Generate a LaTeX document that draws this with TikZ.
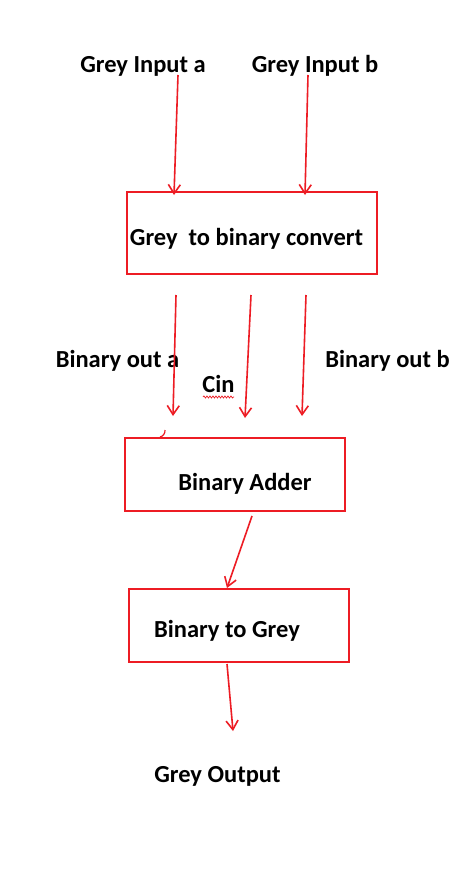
\documentclass[tikz,border=0pt]{standalone}
\usepackage{fontspec}
\setmainfont{Carlito}
\usetikzlibrary{arrows.meta,decorations.pathmorphing}
\definecolor{penred}{RGB}{237,28,36}
\tikzset{
	blockbox/.style = {draw=penred, line width=1.6pt, inner sep=0pt},
	lbl/.style = {font=\bfseries\fontsize{24.5}{29}\selectfont, inner sep=0pt, anchor=base},
	redarrow/.style = {penred, line width=1.6pt, -{Straight Barb[length=9pt,width=12pt,line width=1.6pt]}}
}
\begin{document}
\begin{tikzpicture}[x=1pt, y=-1pt]
	\fill[white] (0,0) rectangle (476,880);
	\useasboundingbox (0,0) rectangle (476,880);
	
	% blocks
	\node[blockbox, minimum width=250pt, minimum height=82pt](conv) at (252,233) {};
	\node[blockbox, minimum width=220pt, minimum height=73pt](adder) at (235,474.5) {};
	\node[blockbox, minimum width=220pt, minimum height=73pt](togrey) at (239,625.5) {};
	
	% texts
	\node[lbl](ina) at (143,73) {Grey Input a};
	\node[lbl](inb) at (315,73) {Grey Input b};
	\node[lbl](convtxt) at (246.5,245) {Grey\ \ to binary convert};
	\node[lbl](outa) at (117.5,367) {Binary out a};
	\node[lbl](outb) at (387.5,367) {Binary out b};
	\node[lbl](cin) at (218.5,392) {Cin};
	\node[lbl](addtxt) at (245,490) {Binary Adder};
	\node[lbl](greytxt) at (227,637) {Binary to Grey};
	\node[lbl](gout) at (217.5,782) {Grey Output};
	
	% arrow ends
	\coordinate[](a1) at (178,75) ;
	\coordinate[](a2) at (174,195) ;
	\coordinate[](b1) at (308,75) ;
	\coordinate[](b2) at (305,195) ;
	\coordinate[](c1) at (176,295) ;
	\coordinate[](c2) at (173,416) ;
	\coordinate[](d1) at (251,295) ;
	\coordinate[](d2) at (245,418) ;
	\coordinate[](e1) at (306,295) ;
	\coordinate[](e2) at (302,416) ;
	\coordinate[](f1) at (252,516) ;
	\coordinate[](f2) at (227,588) ;
	\coordinate[](g1) at (227,664) ;
	\coordinate[](g2) at (233,731) ;
	
	\draw[redarrow] (a1) -- (a2);
	\draw[redarrow] (b1) -- (b2);
	\draw[redarrow] (c1) -- (c2);
	\draw[redarrow] (d1) -- (d2);
	\draw[redarrow] (e1) -- (e2);
	\draw[redarrow] (f1) -- (f2);
	\draw[redarrow] (g1) -- (g2);
	
	% spell check mark under Cin, small hook on the adder
	\draw[penred, line width=0.7pt, decorate,
		decoration={snake, amplitude=1pt, segment length=3pt}]
		(203,397) -- (234,397);
	\draw[penred, line width=1.2pt] (160,437) to[bend right=40] (165,430);
	
	\end{tikzpicture}
\end{document}
